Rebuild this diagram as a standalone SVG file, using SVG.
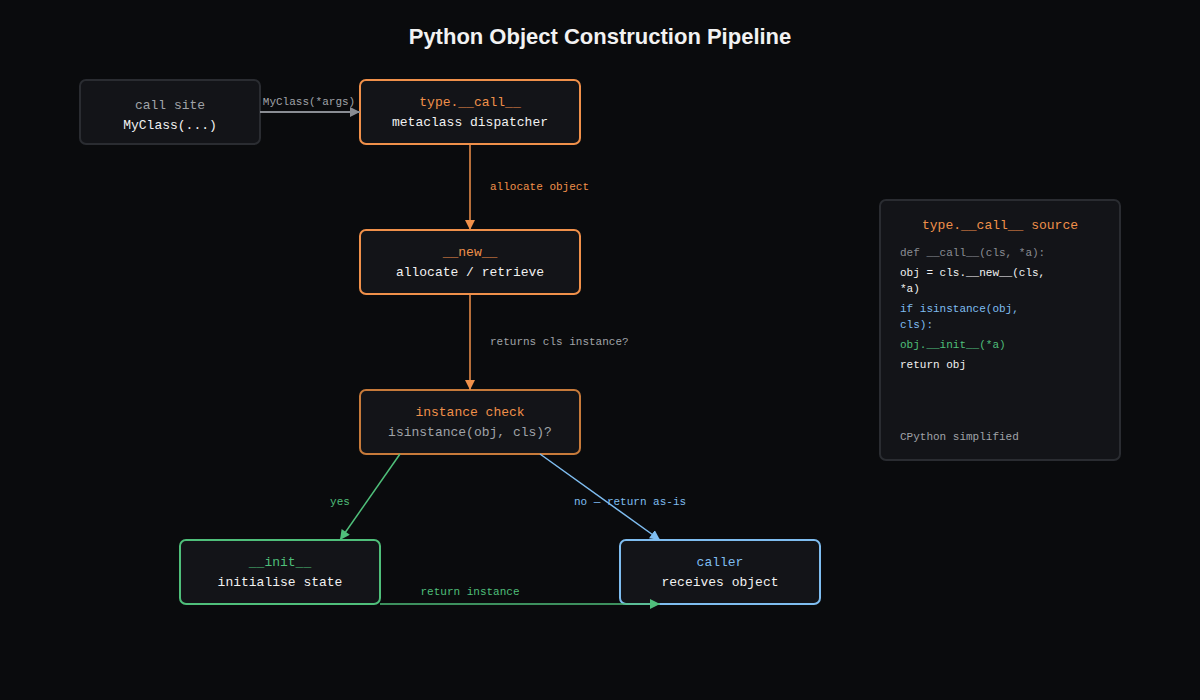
<svg xmlns="http://www.w3.org/2000/svg" width="1200" height="700" viewBox="0 0 1200 700">
<style>
.m{font-family:"Liberation Mono","DejaVu Sans Mono",monospace}
.box{fill:#131418;stroke-width:2}
.t{font-size:13px;text-anchor:middle}
.s{font-size:11px}
</style>
<defs>
<marker id="ao" viewBox="0 0 10 10" refX="10" refY="5" markerWidth="10" markerHeight="10" markerUnits="userSpaceOnUse" orient="auto"><path d="M0,0L10,5L0,10z" fill="#f0904a"/></marker>
<marker id="ag" viewBox="0 0 10 10" refX="10" refY="5" markerWidth="12" markerHeight="10" markerUnits="userSpaceOnUse" orient="auto"><path d="M0,0L10,5L0,10z" fill="#8a8d93"/></marker>
<marker id="agr" viewBox="0 0 10 10" refX="10" refY="5" markerWidth="12" markerHeight="10" markerUnits="userSpaceOnUse" orient="auto"><path d="M0,0L10,5L0,10z" fill="#4fbf7a"/></marker>
<marker id="ab" viewBox="0 0 10 10" refX="10" refY="5" markerWidth="10" markerHeight="10" markerUnits="userSpaceOnUse" orient="auto"><path d="M0,0L10,5L0,10z" fill="#7fbdf0"/></marker>
</defs>
<rect width="1200" height="700" fill="#0a0b0d"/>
<text x="600" y="44" text-anchor="middle" font-family="Liberation Sans,Arial,sans-serif" font-weight="bold" font-size="22" fill="#f2f2f2">Python Object Construction Pipeline</text>
<g id="callsite" class="m">
<rect x="80" y="80" width="180" height="64" rx="6" class="box" stroke="#2a2c31"/>
<text x="170" y="109" class="t" fill="#a0a3a8">call site</text>
<text x="170" y="129" class="t" font-size="14" fill="#f2f2f2">MyClass(...)</text>
</g>
<g id="typecall" class="m">
<rect x="360" y="80" width="220" height="64" rx="6" class="box" stroke="#f0904a"/>
<text x="470" y="106" class="t" fill="#f0904a">type.__call__</text>
<text x="470" y="126" class="t" fill="#f2f2f2">metaclass dispatcher</text>
</g>
<g id="new" class="m">
<rect x="360" y="230" width="220" height="64" rx="6" class="box" stroke="#f0904a"/>
<text x="470" y="256" class="t" font-size="14" fill="#f0904a">__new__</text>
<text x="470" y="276" class="t" fill="#f2f2f2">allocate / retrieve</text>
</g>
<g id="check" class="m">
<rect x="360" y="390" width="220" height="64" rx="6" class="box" stroke="#c77a3a" stroke-width="1.5"/>
<text x="470" y="416" class="t" fill="#f0904a">instance check</text>
<text x="470" y="436" class="t" font-size="12" fill="#a0a3a8">isinstance(obj, cls)?</text>
</g>
<g id="init" class="m">
<rect x="180" y="540" width="200" height="64" rx="6" class="box" stroke="#4fbf7a"/>
<text x="280" y="566" class="t" font-size="14" fill="#4fbf7a">__init__</text>
<text x="280" y="586" class="t" fill="#f2f2f2">initialise state</text>
</g>
<g id="caller" class="m">
<rect x="620" y="540" width="200" height="64" rx="6" class="box" stroke="#7fbdf0"/>
<text x="720" y="566" class="t" font-size="14" fill="#7fbdf0">caller</text>
<text x="720" y="586" class="t" fill="#f2f2f2">receives object</text>
</g>
<g id="source" class="m">
<rect x="880" y="200" width="240" height="260" rx="6" class="box" stroke="#2a2c31"/>
<text x="1000" y="229" class="t" fill="#f0904a">type.__call__ source</text>
<text x="900" y="256" class="s" fill="#8a8d93">def __call__(cls, *a):</text>
<text x="900" y="276" class="s" fill="#f2f2f2">obj = cls.__new__(cls,</text>
<text x="900" y="292" class="s" fill="#f2f2f2">*a)</text>
<text x="900" y="312" class="s" fill="#7fbdf0">if isinstance(obj,</text>
<text x="900" y="328" class="s" fill="#7fbdf0">cls):</text>
<text x="900" y="348" class="s" fill="#4fbf7a">obj.__init__(*a)</text>
<text x="900" y="368" class="s" fill="#f2f2f2">return obj</text>
<text x="900" y="440" class="s" fill="#a0a3a8">CPython simplified</text>
</g>
<g id="connectors" class="m">
<line x1="260" y1="112" x2="360" y2="112" stroke="#8a8d93" stroke-width="2" marker-end="url(#ag)"/>
<text x="309" y="105" class="s" text-anchor="middle" fill="#a0a3a8">MyClass(*args)</text>
<line x1="470" y1="144" x2="470" y2="230" stroke="#f0904a" stroke-width="1.5" marker-end="url(#ao)"/>
<text x="490" y="190" class="s" fill="#f0904a">allocate object</text>
<line x1="470" y1="294" x2="470" y2="390" stroke="#f0904a" stroke-width="1.5" marker-end="url(#ao)"/>
<text x="490" y="345" class="s" fill="#a0a3a8">returns cls instance?</text>
<line x1="400" y1="454" x2="340" y2="540" stroke="#4fbf7a" stroke-width="1.5" marker-end="url(#agr)"/>
<text x="340" y="505" class="s" text-anchor="middle" fill="#4fbf7a">yes</text>
<line x1="540" y1="454" x2="660" y2="540" stroke="#7fbdf0" stroke-width="1.5" marker-end="url(#ab)"/>
<text x="630" y="505" class="s" text-anchor="middle" fill="#7fbdf0">no — return as-is</text>
<line x1="380" y1="604" x2="660" y2="604" stroke="#4fbf7a" stroke-width="1.5" marker-end="url(#agr)"/>
<text x="470" y="595" class="s" text-anchor="middle" fill="#4fbf7a">return instance</text>
</g>
</svg>
